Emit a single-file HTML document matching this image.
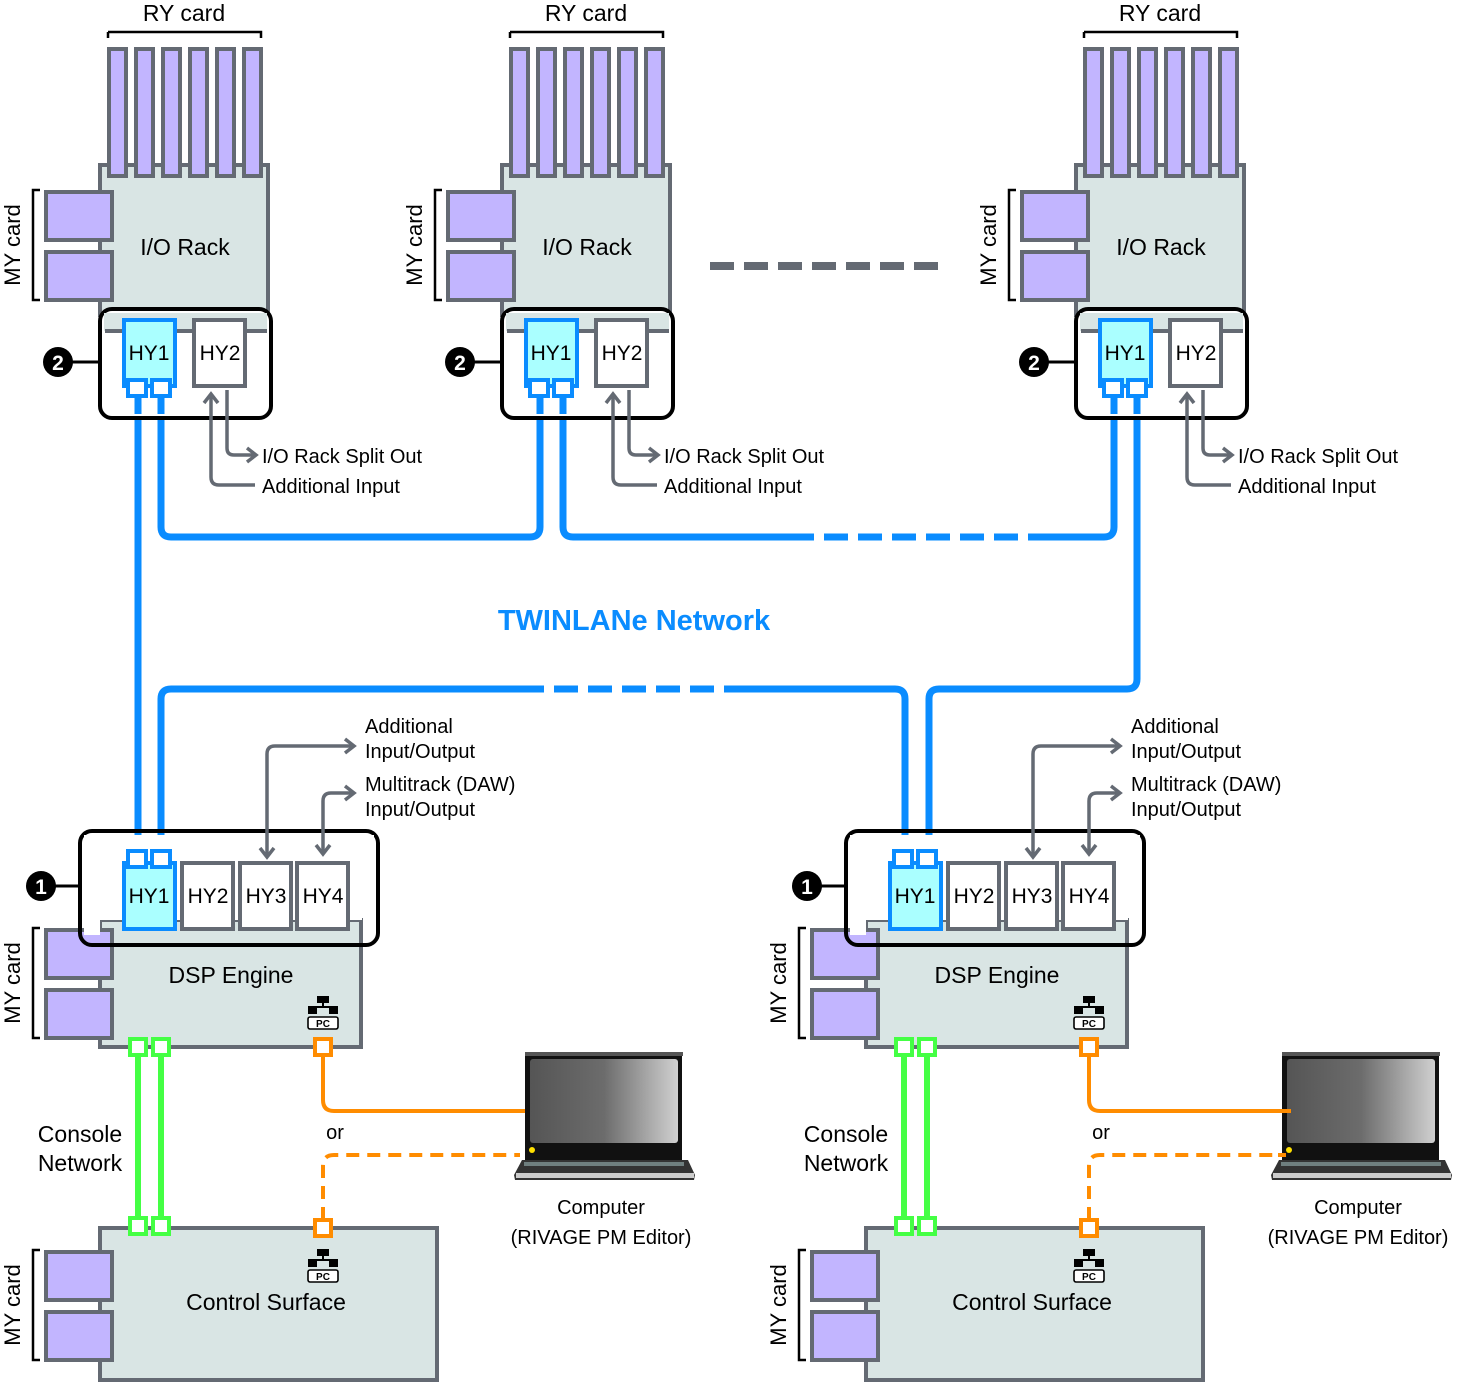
<!DOCTYPE html>
<html><head><meta charset="utf-8"><style>
html,body{margin:0;padding:0;background:#fff;}
svg{display:block;}
text{font-family:"Liberation Sans",Arial,sans-serif;fill:#000;}
</style></head><body>
<svg width="1458" height="1383" viewBox="0 0 1458 1383" xmlns="http://www.w3.org/2000/svg">
<defs>
<linearGradient id="scr" x1="0" x2="1" y1="0" y2="0">
  <stop offset="0" stop-color="#555"/><stop offset="0.5" stop-color="#6c6c6c"/><stop offset="1" stop-color="#d0d0d0"/>
</linearGradient>
<g id="pcicon">
  <rect x="-6" y="-16" width="12" height="7" fill="#000"/>
  <line x1="0" y1="-9" x2="0" y2="-5" stroke="#000" stroke-width="2"/>
  <line x1="-15" y1="-5" x2="15" y2="-5" stroke="#000" stroke-width="2"/>
  <rect x="-15" y="-4" width="9" height="6" fill="#000"/>
  <rect x="6" y="-4" width="9" height="6" fill="#000"/>
  <rect x="-15" y="5" width="30" height="12" rx="2" fill="#fff" stroke="#000" stroke-width="1.6"/>
  <text x="0" y="15" font-size="10" font-weight="bold" text-anchor="middle">PC</text>
</g>
<g id="mycards">
  <path d="M40,0 H33 V110 H40" fill="none" stroke="#000" stroke-width="2.5"/>
  <rect x="46" y="2" width="66" height="48" fill="#c2b5ff" stroke="#646a73" stroke-width="4"/>
  <rect x="46" y="62" width="66" height="48" fill="#c2b5ff" stroke="#646a73" stroke-width="4"/>
  <text transform="translate(20,55) rotate(-90)" font-size="22" text-anchor="middle">MY card</text>
</g>
<g id="rack">
  <path d="M108,32 V38 M108,32 H261 V38" fill="none" stroke="#000" stroke-width="2.5"/>
  <text x="184" y="21" font-size="23" text-anchor="middle">RY card</text>
  <rect x="100" y="165" width="168" height="150" fill="#d9e5e4" stroke="#646a73" stroke-width="4"/>
  <g fill="#c2b5ff" stroke="#646a73" stroke-width="4">
    <rect x="109" y="49" width="17" height="127"/>
    <rect x="136" y="49" width="17" height="127"/>
    <rect x="163" y="49" width="17" height="127"/>
    <rect x="190" y="49" width="17" height="127"/>
    <rect x="217" y="49" width="17" height="127"/>
    <rect x="244" y="49" width="17" height="127"/>
  </g>
  <use href="#mycards" transform="translate(0,190)"/>
  <text x="185" y="255" font-size="23" text-anchor="middle">I/O Rack</text>
  <rect x="100" y="309" width="171" height="109" rx="12" fill="#fff" stroke="#000" stroke-width="4"/>
  <path d="M104,313 H267 V331 H104 Z" fill="#d9e5e4"/>
  <line x1="105" y1="331" x2="267" y2="331" stroke="#646a73" stroke-width="4"/>
  <rect x="124" y="320" width="51" height="66" fill="#aaffff" stroke="#0a8cff" stroke-width="4"/>
  <rect x="194" y="320" width="51" height="66" fill="#fff" stroke="#646a73" stroke-width="4"/>
  <text x="149" y="360" font-size="21" text-anchor="middle">HY1</text>
  <text x="220" y="360" font-size="21" text-anchor="middle">HY2</text>
  <rect x="128" y="380" width="18" height="16" fill="#fff" stroke="#0a8cff" stroke-width="4"/>
  <rect x="152" y="380" width="18" height="16" fill="#fff" stroke="#0a8cff" stroke-width="4"/>
  <line x1="138" y1="396" x2="138" y2="414" stroke="#0a8cff" stroke-width="7"/>
  <line x1="161" y1="396" x2="161" y2="414" stroke="#0a8cff" stroke-width="7"/>
  <circle cx="58" cy="362" r="15" fill="#000"/>
  <text x="58" y="370" font-size="21" font-weight="bold" text-anchor="middle" style="fill:#fff">2</text>
  <line x1="72" y1="362" x2="100" y2="362" stroke="#000" stroke-width="3"/>
  <g fill="none" stroke="#646a73" stroke-width="3.5">
    <path d="M255,485 H219 Q211,485 211,477 V396"/>
    <path d="M204,403 L211,394 L218,403"/>
    <path d="M227,390 V448 Q227,455 234,455 H254"/>
    <path d="M247,448 L256,455 L247,462"/>
  </g>
  <text x="262" y="463" font-size="20">I/O Rack Split Out</text>
  <text x="262" y="493" font-size="20">Additional Input</text>
</g>
<g id="laptop">
  <path d="M525,1054 H682 V1162 H525 Z" fill="#111"/>
  <rect x="525" y="1052" width="158" height="4" fill="#555"/>
  <rect x="530" y="1059" width="148" height="84" rx="3" fill="url(#scr)"/>
  <circle cx="532" cy="1150" r="3" fill="#ffe000"/>
  <path d="M522,1160 H688 L695,1175 L694,1180 H515 L514,1175 Z" fill="#333"/>
  <rect x="524" y="1162" width="160" height="4" fill="#6f7f7f"/>
  <rect x="516" y="1173" width="178" height="5" fill="#ccc"/>
  <text x="601" y="1214" font-size="20" text-anchor="middle">Computer</text>
  <text x="601" y="1244" font-size="20" text-anchor="middle">(RIVAGE PM Editor)</text>
</g>
<g id="dsp">
  <rect x="100" y="920" width="261" height="127" fill="#d9e5e4" stroke="#646a73" stroke-width="4"/>
  <use href="#mycards" transform="translate(0,928)"/>
  <rect x="80" y="831" width="298" height="114" rx="12" fill="none" stroke="#000" stroke-width="4"/>
  <path d="M84,835 H374 V918 H362 V920 H100 V935 H84 Z" fill="#fff"/>
  <rect x="124" y="863" width="51" height="66" fill="#aaffff" stroke="#0a8cff" stroke-width="4"/>
  <rect x="182" y="863" width="51" height="66" fill="#fff" stroke="#646a73" stroke-width="4"/>
  <rect x="240" y="863" width="51" height="66" fill="#fff" stroke="#646a73" stroke-width="4"/>
  <rect x="297" y="863" width="51" height="66" fill="#fff" stroke="#646a73" stroke-width="4"/>
  <rect x="128" y="851" width="18" height="16" fill="#fff" stroke="#0a8cff" stroke-width="4"/>
  <rect x="152" y="851" width="18" height="16" fill="#fff" stroke="#0a8cff" stroke-width="4"/>
  <text x="149" y="903" font-size="21" text-anchor="middle">HY1</text>
  <text x="208" y="903" font-size="21" text-anchor="middle">HY2</text>
  <text x="266" y="903" font-size="21" text-anchor="middle">HY3</text>
  <text x="323" y="903" font-size="21" text-anchor="middle">HY4</text>
  <circle cx="41" cy="886" r="15" fill="#000"/>
  <text x="41" y="894" font-size="21" font-weight="bold" text-anchor="middle" style="fill:#fff">1</text>
  <line x1="55" y1="886" x2="80" y2="886" stroke="#000" stroke-width="3"/>
  <text x="231" y="983" font-size="23" text-anchor="middle">DSP Engine</text>
  <use href="#pcicon" transform="translate(323,1012)"/>
  <g fill="none" stroke="#646a73" stroke-width="3.5">
    <path d="M352,746 H275 Q267,746 267,754 V856"/>
    <path d="M260,848 L267,857 L274,848"/>
    <path d="M345,739 L354,746 L345,753"/>
    <path d="M352,793 H331 Q323,793 323,801 V853"/>
    <path d="M316,845 L323,854 L330,845"/>
    <path d="M345,786 L354,793 L345,800"/>
  </g>
  <text x="365" y="733" font-size="20">Additional</text>
  <text x="365" y="758" font-size="20">Input/Output</text>
  <text x="365" y="791" font-size="20">Multitrack (DAW)</text>
  <text x="365" y="816" font-size="20">Input/Output</text>
  <!-- control surface -->
  <rect x="100" y="1228" width="337" height="152" fill="#d9e5e4" stroke="#646a73" stroke-width="4"/>
  <use href="#mycards" transform="translate(0,1250)"/>
  <text x="266" y="1310" font-size="23" text-anchor="middle">Control Surface</text>
  <use href="#pcicon" transform="translate(323,1265)"/>
  <!-- green -->
  <g stroke="#44ff44" stroke-width="6" fill="none">
    <line x1="138" y1="1056" x2="138" y2="1218"/>
    <line x1="161" y1="1056" x2="161" y2="1218"/>
  </g>
  <g fill="#fff" stroke="#44ff44" stroke-width="4">
    <rect x="130" y="1039" width="16" height="16"/>
    <rect x="153" y="1039" width="16" height="16"/>
    <rect x="130" y="1218" width="16" height="16"/>
    <rect x="153" y="1218" width="16" height="16"/>
  </g>
  <!-- orange -->
  <path d="M323,1055 V1100 Q323,1111 334,1111 H525" fill="none" stroke="#ff8c00" stroke-width="4"/>
  <path d="M323,1220 V1166 Q323,1155 334,1155 H520" fill="none" stroke="#ff8c00" stroke-width="4" stroke-dasharray="13,8"/>
  <g fill="#fff" stroke="#ff8c00" stroke-width="4">
    <rect x="315" y="1039" width="16" height="16"/>
    <rect x="315" y="1220" width="16" height="16"/>
  </g>
  <text x="335" y="1139" font-size="20" text-anchor="middle">or</text>
  <text x="80" y="1142" font-size="23" text-anchor="middle">Console</text>
  <text x="80" y="1171" font-size="23" text-anchor="middle">Network</text>
</g>
</defs>

<!-- blue network lines -->
<g fill="none" stroke="#0a8cff" stroke-width="7">
  <path d="M138,418 V855"/>
  <path d="M161,418 V527 Q161,537 171,537 H530 Q540,537 540,527 V418"/>
  <path d="M563,418 V527 Q563,537 573,537 H790"/>
  <path d="M790,537 H1030" stroke-dasharray="24,10"/>
  <path d="M1030,537 H1104 Q1114,537 1114,527 V418"/>
  <path d="M1137,418 V679 Q1137,689 1127,689 H939 Q929,689 929,699 V855"/>
  <path d="M161,855 V699 Q161,689 171,689 H520"/>
  <path d="M520,689 H725" stroke-dasharray="24,10"/>
  <path d="M725,689 H895 Q905,689 905,699 V855"/>
</g>
<line x1="710" y1="266" x2="938" y2="266" stroke="#646a73" stroke-width="8" stroke-dasharray="24,10"/>
<text x="634" y="630" font-size="29" font-weight="bold" text-anchor="middle" style="fill:#0a8cff">TWINLANe Network</text>

<use href="#rack"/>
<use href="#rack" transform="translate(402,0)"/>
<use href="#rack" transform="translate(976,0)"/>
<use href="#dsp"/>
<use href="#dsp" transform="translate(766,0)"/>
<use href="#laptop"/>
<use href="#laptop" transform="translate(757,0)"/>
<path d="M1282,1111 H1291 M1278,1155 H1286" stroke="#ff8c00" stroke-width="4"/>
</svg>
</body></html>
